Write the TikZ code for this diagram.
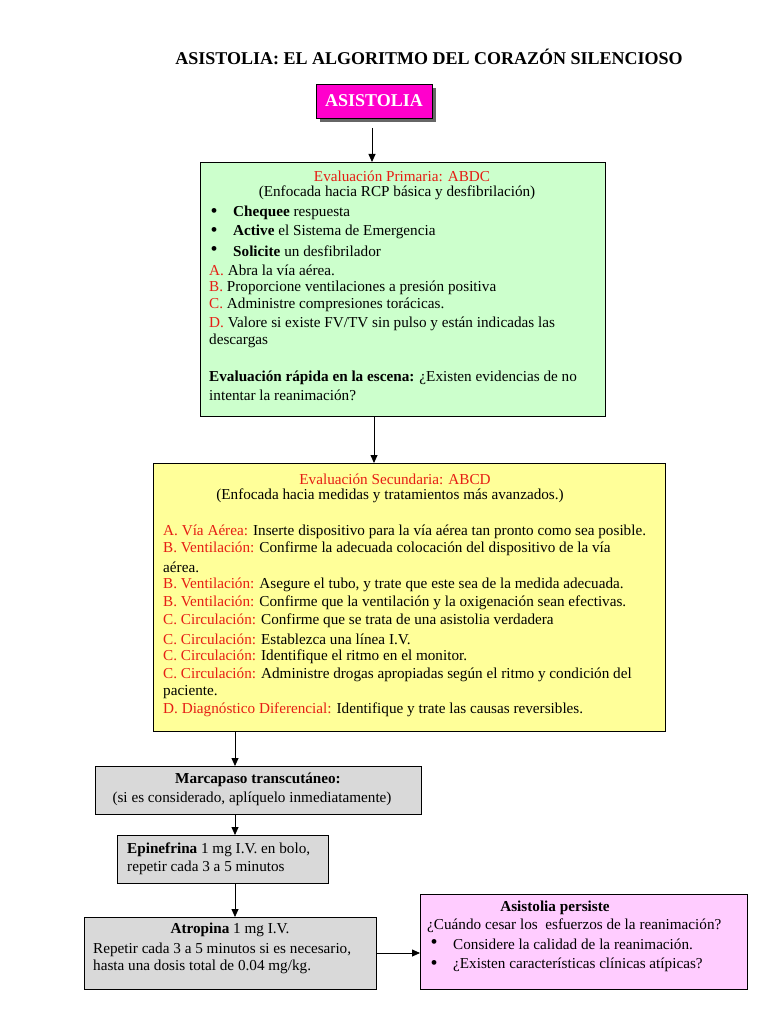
\documentclass[tikz,border=0pt]{standalone}
\usepackage{fontspec}
\setmainfont{Liberation Serif}
\usetikzlibrary{arrows.meta}
\definecolor{rd}{RGB}{230,30,20}
\definecolor{gr}{RGB}{204,255,204}
\definecolor{yl}{RGB}{255,255,153}
\definecolor{gy}{RGB}{217,217,217}
\definecolor{pk}{RGB}{255,204,255}
\definecolor{mg}{RGB}{255,0,204}
\begin{document}
\begin{tikzpicture}[x=1pt,y=-1pt,
 box/.style={draw=black,line width=0.8pt},
 t/.style={anchor=west,inner sep=0pt,font=\fontsize{15.2}{17}\selectfont},
 c/.style={anchor=center,inner sep=0pt,font=\fontsize{15.2}{17}\selectfont},
 bl/.style={anchor=center,inner sep=0pt,font=\fontsize{20}{20}\selectfont},
 arr/.style={-{Triangle[length=8pt,width=7pt]},line width=0.8pt}]
\useasboundingbox (0,0) rectangle (768,1024);
\node[c,font=\bfseries\fontsize{18}{20}\selectfont] (title) at (429,57) {ASISTOLIA: EL ALGORITMO DEL CORAZÓN SILENCIOSO};
\fill[black!60] (320,88) rectangle (436,122);
\node[box,fill=mg,minimum width=116pt,minimum height=34pt,text=white,font=\bfseries\fontsize{18}{20}\selectfont] (asis) at (374,101) {ASISTOLIA};
\node[box,fill=gr,minimum width=405pt,minimum height=254pt,anchor=north west] (prim) at (200,162) {};
\node[box,fill=yl,minimum width=512pt,minimum height=268pt,anchor=north west] (sec) at (153,463) {};
\node[box,fill=gy,minimum width=326pt,minimum height=48pt,anchor=north west] (marc) at (95,766) {};
\node[box,fill=gy,minimum width=211pt,minimum height=48pt,anchor=north west] (epi) at (117,835) {};
\node[box,fill=gy,minimum width=292pt,minimum height=72pt,anchor=north west] (atro) at (84,917) {};
\node[box,fill=pk,minimum width=327pt,minimum height=95pt,anchor=north west] (pers) at (420,894) {};
\coordinate (a1) at (372,128);
\draw[arr] (a1) -- (prim.north -| a1);
\draw[arr] (prim.south -| 374,0) -- (sec.north -| 374,0);
\draw[arr] (sec.south -| 235,0) -- (marc.north -| 235,0);
\draw[arr] (marc.south -| 235,0) -- (epi.north -| 235,0);
\draw[arr] (epi.south -| 235,0) -- (atro.north -| 235,0);
\draw[arr] (atro.east |- 0,953) -- (pers.west |- 0,953);
% primary
\node[c,text=rd] (p1) at (402,176) {Evaluación Primaria: ABDC};
\node[c] (p2) at (397,193) {(Enfocada hacia RCP básica y desfibrilación)};
\node[bl] (b1) at (214,213) {•}; \node[t] (p3) at (233,213) {\textbf{Chequee} respuesta};
\node[bl] (b2) at (214,232) {•}; \node[t] (p4) at (233,232) {\textbf{Active} el Sistema de Emergencia};
\node[bl] (b3) at (214,251) {•}; \node[t] (p5) at (233,251) {\textbf{Solicite} un desfibrilador};
\node[t] (p6) at (209,270) {\textcolor{rd}{A.} Abra la vía aérea.};
\node[t] (p7) at (209,288) {\textcolor{rd}{B.} Proporcione ventilaciones a presión positiva};
\node[t] (p8) at (209,305) {\textcolor{rd}{C.} Administre compresiones torácicas.};
\node[t] (p9) at (209,324) {\textcolor{rd}{D.} Valore si existe FV/TV sin pulso y están indicadas las};
\node[t] (p10) at (209,341) {descargas};
\node[t] (p11) at (209,378) {\textbf{Evaluación rápida en la escena:} ¿Existen evidencias de no};
\node[t] (p12) at (209,395) {intentar la reanimación?};
% secondary
\node[c,text=rd] (s1) at (395,479) {Evaluación Secundaria: ABCD};
\node[c] (s2) at (390,496) {(Enfocada hacia medidas y tratamientos más avanzados.)};
\node[t] (s3) at (163,532) {\textcolor{rd}{A. Vía Aérea:} Inserte dispositivo para la vía aérea tan pronto como sea posible.};
\node[t] (s4) at (163,549) {\textcolor{rd}{B. Ventilación:} Confirme la adecuada colocación del dispositivo de la vía};
\node[t] (s5) at (163,567) {aérea.};
\node[t] (s6) at (163,585) {\textcolor{rd}{B. Ventilación:} Asegure el tubo, y trate que este sea de la medida adecuada.};
\node[t] (s7) at (163,603) {\textcolor{rd}{B. Ventilación:} Confirme que la ventilación y la oxigenación sean efectivas.};
\node[t] (s8) at (163,621) {\textcolor{rd}{C. Circulación:} Confirme que se trata de una asistolia verdadera};
\node[t] (s9) at (163,639) {\textcolor{rd}{C. Circulación:} Establezca una línea I.V.};
\node[t] (s10) at (163,657) {\textcolor{rd}{C. Circulación:} Identifique el ritmo en el monitor.};
\node[t] (s11) at (163,675) {\textcolor{rd}{C. Circulación:} Administre drogas apropiadas según el ritmo y condición del};
\node[t] (s12) at (163,692) {paciente.};
\node[t] (s13) at (163,710) {\textcolor{rd}{D. Diagnóstico Diferencial:} Identifique y trate las causas reversibles.};
% grey
\node[c] (m1) at (258,780) {\textbf{Marcapaso transcutáneo:}};
\node[c] (m2) at (252,799) {(si es considerado, aplíquelo inmediatamente)};
\node[t] (e1) at (127,850) {\textbf{Epinefrina} 1 mg I.V. en bolo,};
\node[t] (e2) at (127,868) {repetir cada 3 a 5 minutos};
\node[c] (r1) at (230,930) {\textbf{Atropina} 1 mg I.V.};
\node[t] (r2) at (93,950) {Repetir cada 3 a 5 minutos si es necesario,};
\node[t] (r3) at (93,967) {hasta una dosis total de 0.04 mg/kg.};
% pink
\node[c] (q1) at (555,908) {\textbf{Asistolia persiste}};
\node[t] (q2) at (427,926) {¿Cuándo cesar los\ \ esfuerzos de la\ reanimación?};
\node[bl] (qb1) at (434,944) {•}; \node[t] (q3) at (453,944) {Considere la calidad de la reanimación.};
\node[bl] (qb2) at (434,965) {•}; \node[t] (q4) at (453,965) {¿Existen características clínicas atípicas?};
\end{tikzpicture}
\end{document}
